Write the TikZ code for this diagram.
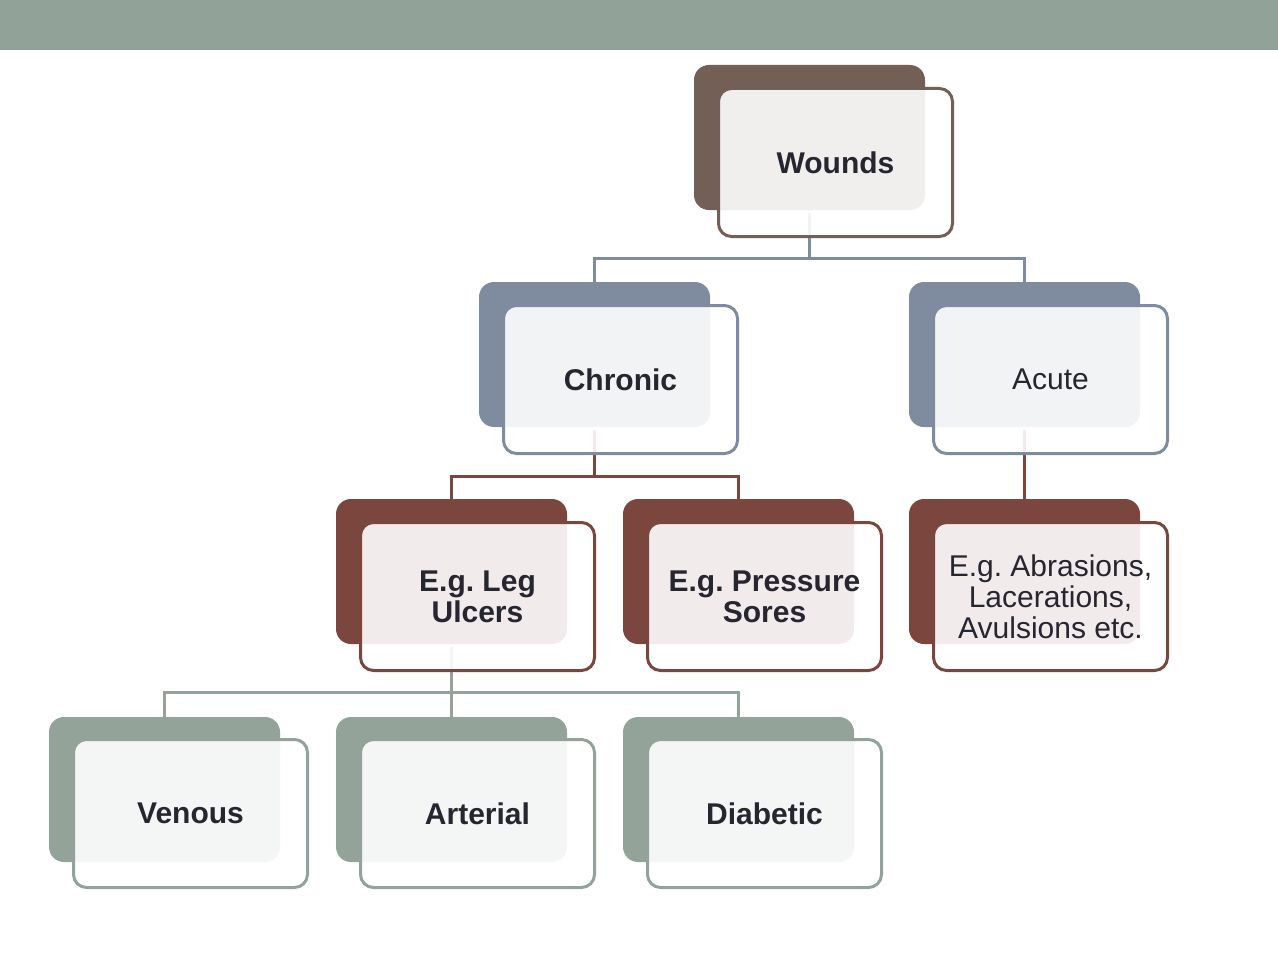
\documentclass[tikz,border=0pt]{standalone}
\usepackage{fontspec}
\setmainfont{Liberation Sans}
\frenchspacing
\definecolor{barc}{RGB}{145,163,152}
\definecolor{cwound}{RGB}{115,95,85}
\definecolor{cslate}{RGB}{127,140,160}
\definecolor{cred}{RGB}{122,70,61}
\definecolor{cgreen}{RGB}{147,163,154}
\definecolor{txt}{RGB}{38,38,48}
\begin{document}
\begin{tikzpicture}[x=1pt,y=-1pt,
  darkbox/.style={rectangle, rounded corners=15pt, minimum width=231pt, minimum height=145pt, inner sep=0pt, outer sep=0pt, anchor=north west},
  outbox/.style={rectangle, rounded corners=13pt, line width=3pt, fill=white, fill opacity=0.9, text opacity=1, draw opacity=1, minimum width=234pt, minimum height=148pt, inner sep=0pt, outer sep=0pt, anchor=north west, align=center, text=txt, font=\fontsize{30}{31}\selectfont\frenchspacing},
  conn/.style={line width=3pt}]
\useasboundingbox (0,0) rectangle (1278,958);
\fill[barc] (0,0) rectangle (1278,50);
% dark back boxes
\node[darkbox, fill=cwound] (wD) at (694,65) {};
\node[darkbox, fill=cslate] (cD) at (479,282) {};
\node[darkbox, fill=cslate] (aD) at (909,282) {};
\node[darkbox, fill=cred] (lD) at (336,499) {};
\node[darkbox, fill=cred] (pD) at (623,499) {};
\node[darkbox, fill=cred] (eD) at (909,499) {};
\node[darkbox, fill=cgreen] (vD) at (49,717) {};
\node[darkbox, fill=cgreen] (rD) at (336,717) {};
\node[darkbox, fill=cgreen] (dD) at (623,717) {};
% connectors
\draw[conn, cslate] ([yshift=-3pt]wD.south) -- ++(0,45) -| (cD.north);
\draw[conn, cslate] ([yshift=-3pt]wD.south) -- ++(0,45) -| (aD.north);
\draw[conn, cred] ([yshift=-3pt]cD.south) -- ++(0,46) -| (lD.north);
\draw[conn, cred] ([yshift=-3pt]cD.south) -- ++(0,46) -| (pD.north);
\draw[conn, cred] ([yshift=-3pt]aD.south) -- (eD.north);
\draw[conn, cgreen] ([yshift=-3pt]lD.south) -- ++(0,45) -| (vD.north);
\draw[conn, cgreen] ([yshift=-3pt]lD.south) -- ++(0,45) -| (rD.north);
\draw[conn, cgreen] ([yshift=-3pt]lD.south) -- ++(0,45) -| (dD.north);
% front boxes
\node[outbox, draw=cwound] (w) at (718.5,88.5) {\bfseries Wounds};
\node[outbox, draw=cslate] (c) at (503.5,305.5) {\bfseries Chronic};
\node[outbox, draw=cslate] (a) at (933.5,305.5) {Acute};
\node[outbox, draw=cred] (l) at (360.5,522.5) {\bfseries E.g. Leg\\\bfseries Ulcers};
\node[outbox, draw=cred] (p) at (647.5,522.5) {\bfseries E.g. Pressure\\\bfseries Sores};
\node[outbox, draw=cred] (e) at (933.5,522.5) {E.g. Abrasions,\\Lacerations,\\Avulsions etc.};
\node[outbox, draw=cgreen] (v) at (73.5,739.5) {\bfseries Venous};
\node[outbox, draw=cgreen] (r) at (360.5,739.5) {\bfseries Arterial};
\node[outbox, draw=cgreen] (d) at (647.5,739.5) {\bfseries Diabetic};
\end{tikzpicture}
\end{document}
